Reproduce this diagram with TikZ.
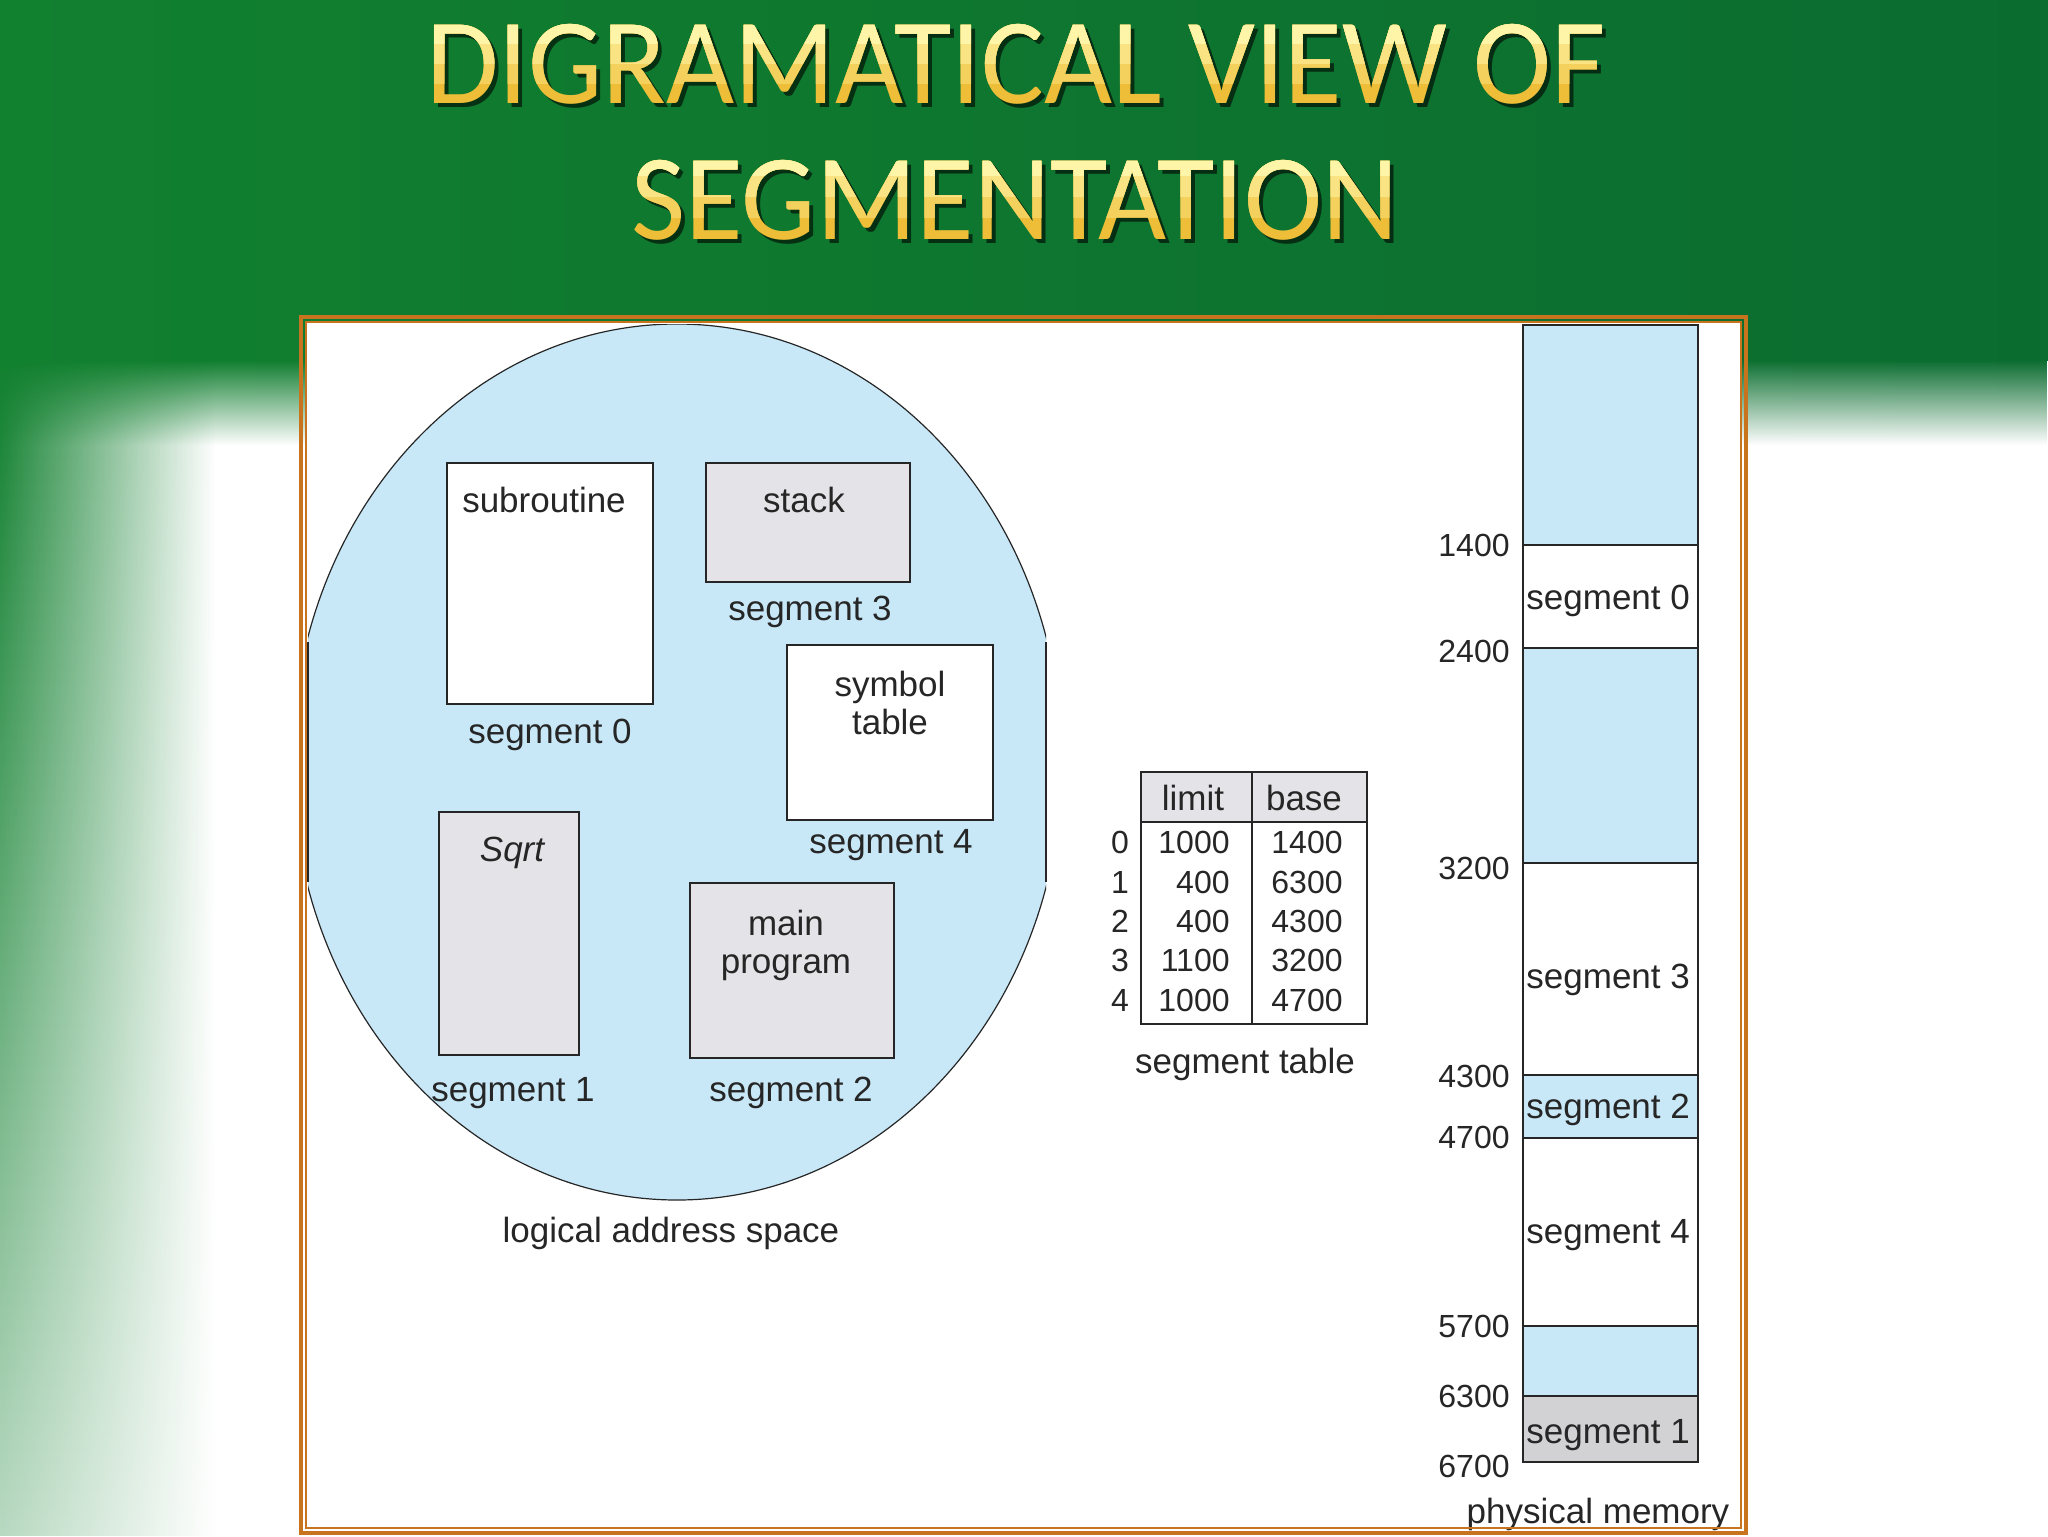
\documentclass[tikz,border=0pt]{standalone}
\usepackage{fontspec}
\setmainfont{Liberation Sans}
\newfontfamily\titlefont{Carlito}
\usetikzlibrary{fadings}

\definecolor{memblue}{HTML}{C8E8F8}
\definecolor{boxgray}{HTML}{E4E4E8}
\definecolor{seggray}{HTML}{D2D2D4}
\definecolor{frameorange}{HTML}{C8741E}
\definecolor{slidegreen}{HTML}{11802F}
\definecolor{darkgreen}{HTML}{04482A}
\definecolor{rightgreen}{HTML}{0B6C30}
\definecolor{titlegold}{HTML}{EEBE38}
\definecolor{titlepale}{HTML}{FFF5A8}

\tikzfading[name=fadedown, top color=transparent!0, bottom color=transparent!100]
\tikzfading[name=faderight, left color=transparent!0, right color=transparent!100]

\begin{document}
\begin{tikzpicture}[x=0.5pt, y=-0.5pt,
    lbl/.style={font=\fontsize{17.5}{20}\selectfont, text=black!85, anchor=base, inner sep=0pt},
    num/.style={font=\fontsize{16}{19}\selectfont, text=black!85, anchor=base east, inner sep=0pt},
    memlbl/.style={lbl, anchor=base west},
    segbox/.style={draw=black!85, line width=0.6pt},
    titletext/.style={font=\titlefont\fontsize{61}{70}\selectfont, anchor=base, inner sep=0pt},
  ]
  \useasboundingbox (0,0) rectangle (2048,1536);

  % Slide background
  \fill[white] (0,0) rectangle (2048,1536);
  \shade[left color=slidegreen, middle color=darkgreen, right color=rightgreen]
    (0,0) rectangle (2048,360);
  \shade[left color=slidegreen, middle color=darkgreen, right color=rightgreen, path fading=fadedown]
    (0,360) rectangle (2048,445);
  \shade[top color=slidegreen, bottom color=slidegreen!30!white, path fading=faderight]
    (0,360) rectangle (215,1536);

  % Title
  \node[titletext, text=black, opacity=0.6] (titleAshadow) at (1020,108) {\scalebox{0.965}[1]{DIGRAMATICAL VIEW OF}};
  \node[titletext, text=black, opacity=0.6] (titleBshadow) at (1019,243) {\scalebox{0.965}[1]{SEGMENTATION}};
  \node[titletext, text=titlegold] (titleA) at (1016,104) {\scalebox{0.965}[1]{DIGRAMATICAL VIEW OF}};
  \node[titletext, text=titlegold] (titleB) at (1015,239) {\scalebox{0.965}[1]{SEGMENTATION}};
  \foreach \k/\mix in {1/33, 2/67, 3/100} {
    \begin{scope}
      \clip (0,0) rectangle (2048,{23+(1-\k/4)*81}) (0,130) rectangle (2048,{154+(1-\k/4)*85});
      \node[titletext, text=titlepale!\mix!titlegold] (titleA\k) at (1016,104) {\scalebox{0.965}[1]{DIGRAMATICAL VIEW OF}};
      \node[titletext, text=titlepale!\mix!titlegold] (titleB\k) at (1015,239) {\scalebox{0.965}[1]{SEGMENTATION}};
    \end{scope}
  }

  % Picture area
  \fill[white] (306,322) rectangle (1741,1528);

  % Logical address space
  \begin{scope}
    \clip (308,324) rectangle (1046,1536);
    \filldraw[fill=memblue, draw=black!85, line width=0.6pt] (677,762) ellipse (385 and 438);
  \end{scope}
  \draw[black!85, line width=0.6pt] (308,642) -- (308,882);
  \draw[black!85, line width=0.6pt] (1046,642) -- (1046,882);

  \filldraw[fill=white, segbox] (447,463) rectangle (653,704);
  \filldraw[fill=boxgray, segbox] (706,463) rectangle (910,582);
  \filldraw[fill=white, segbox] (787,645) rectangle (993,820);
  \filldraw[fill=boxgray, segbox] (439,812) rectangle (579,1055);
  \filldraw[fill=boxgray, segbox] (690,883) rectangle (894,1058);

  \node[lbl] (subr) at (544,512) {subroutine};
  \node[lbl] (stack) at (804,512) {stack};
  \node[lbl] (symb) at (890,696) {symbol};
  \node[lbl] (tabl) at (890,734) {table};
  \node[lbl] (sqrt) at (512,861) {\itshape Sqrt};
  \node[lbl] (mainp) at (786,935) {main};
  \node[lbl] (progp) at (786,973) {program};

  \node[lbl] (lseg0) at (550,743) {segment 0};
  \node[lbl] (lseg3) at (810,620) {segment 3};
  \node[lbl] (lseg4) at (891,853) {segment 4};
  \node[lbl] (lseg1) at (513,1101) {segment 1};
  \node[lbl] (lseg2) at (791,1101) {segment 2};
  \node[lbl] (logspace) at (671,1242) {logical address space};

  % Segment table
  \filldraw[fill=boxgray, segbox] (1141,772) rectangle (1367,822);
  \draw[segbox] (1141,772) rectangle (1367,1024);
  \draw[segbox] (1252,772) -- (1252,1024);
  \node[lbl] (limith) at (1193,810) {limit};
  \node[lbl] (baseh) at (1304,810) {base};
  \foreach \i/\lim/\bas/\y in {0/1000/1400/853, 1/400/6300/893, 2/400/4300/932,
      3/1100/3200/971, 4/1000/4700/1011} {
    \node[num, anchor=base] (idx\i) at (1120,\y) {\i};
    \node[num] (lim\i) at (1230,\y) {\lim};
    \node[num] (bas\i) at (1343,\y) {\bas};
  }
  \node[lbl] (segtab) at (1245,1073) {segment table};

  % Physical memory
  \foreach \top/\bot/\col in {325/545/memblue, 545/648/white, 648/863/memblue,
      863/1075/white, 1075/1138/memblue, 1138/1326/white, 1326/1396/memblue, 1396/1462/seggray}
    \filldraw[fill=\col, segbox] (1523,\top) rectangle (1698,\bot);
  \draw[black!85, line width=1.3pt] (1523,863) rectangle (1698,1075);
  \draw[black!85, line width=1pt] (1523,1396) rectangle (1698,1462);

  \node[memlbl] (pseg0) at (1526,609) {segment 0};
  \node[memlbl] (pseg3) at (1526,988) {segment 3};
  \node[memlbl] (pseg2) at (1526,1118) {segment 2};
  \node[memlbl] (pseg4) at (1526,1243) {segment 4};
  \node[memlbl] (pseg1) at (1526,1443) {segment 1};

  \foreach \addr/\y in {1400/556, 2400/662, 3200/879, 4300/1087, 4700/1148,
      5700/1337, 6300/1407, 6700/1477}
    \node[num] (addr\addr) at (1510,\y) {\addr};

  \node[lbl] (physmem) at (1598,1523) {physical memory};

  % Frame
  \draw[frameorange, line width=1.6pt] (301,317) rectangle (1746,1533);
  \draw[frameorange, line width=1pt] (306,322) rectangle (1741,1528);
\end{tikzpicture}
\end{document}
